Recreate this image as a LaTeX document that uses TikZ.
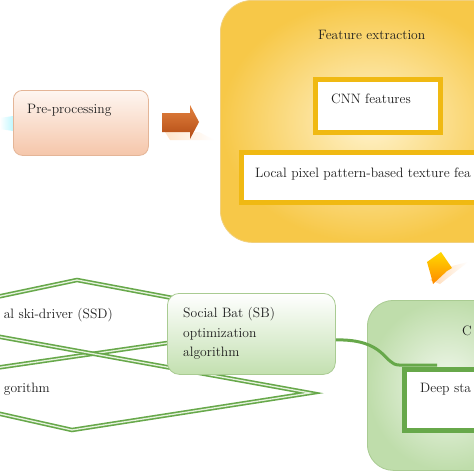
\documentclass[tikz,border=0pt]{standalone}
\usetikzlibrary{shapes.geometric}
\definecolor{txtc}{HTML}{1E1E1E}
\definecolor{peachtop}{HTML}{FEF6F1}
\definecolor{peachbot}{HTML}{F5C6AA}
\definecolor{peachline}{HTML}{E4B597}
\definecolor{orgtop}{HTML}{E3823F}
\definecolor{orgbot}{HTML}{B24B14}
\definecolor{featin}{HTML}{FFF3CD}
\definecolor{featout}{HTML}{F7C848}
\definecolor{featline}{HTML}{F1D07E}
\definecolor{gold}{HTML}{F0B912}
\definecolor{grin}{HTML}{F2F8EE}
\definecolor{grout}{HTML}{BFDDAB}
\definecolor{grline}{HTML}{A9CB92}
\definecolor{sbbot}{HTML}{C3E0B0}
\definecolor{dgreen}{HTML}{67A84A}
\definecolor{dgreenin}{HTML}{E6F2DE}
\tikzset{
  lbl/.style={font=\fontsize{13.6}{19.5}\selectfont, text=txtc, inner sep=0pt},
  plain/.style={rectangle, inner sep=0pt, anchor=north west},
  prebox/.style={plain, rounded corners=9pt, draw=peachline, line width=0.8pt, top color=peachtop, bottom color=peachbot},
  featbox/.style={plain, rounded corners=32pt, draw=featline, line width=0.8pt, shading=radial, inner color=featin, outer color=featout},
  goldbox/.style={plain, fill=white, draw=gold, line width=5pt},
  classbox/.style={plain, rounded corners=26pt, draw=grline, line width=0.8pt, shading=radial, inner color=grin, outer color=grout},
  sbboxst/.style={plain, rounded corners=12pt, draw=grline, line width=0.8pt, top color=white, bottom color=sbbot},
  greenbox/.style={plain, fill=white, draw=dgreen, line width=5pt},
  dline/.style={draw=dgreen, line width=1.6pt, double=dgreenin, double distance=1.3pt, line join=miter},
  conn/.style={draw=dgreen, line width=3pt},
}
\begin{document}
\begin{tikzpicture}[x=1pt,y=-1pt]
\useasboundingbox (0,0) rectangle (474,474);
\clip (0,0) rectangle (474,474);
\fill[white] (0,0) rectangle (474,474);

% faint left arrow tail
\shade[left color=white, right color=blue!12!cyan!25] (0,118) -- (13,116) -- (13,131) -- (0,129) -- cycle;

% pre-processing
\node[prebox, minimum width=135pt, minimum height=65pt] (pre) at (13,90) {};
\node[lbl, anchor=base west] (pretxt) at (27,113) {Pre-processing};

% orange arrow with shadow
\shade[left color=orange!20, right color=white] (165,132) -- (199,132) -- (214,140) -- (170,140) -- cycle;
\shade[top color=orgtop, bottom color=orgbot] (162,113) -- (190,113) -- (190,105) -- (199,122) -- (190,139) -- (190,132) -- (162,132) -- cycle;

% feature extraction
\node[featbox, minimum width=300pt, minimum height=242pt] (feat) at (220,0) {};
\node[lbl, anchor=base west] (feattxt) at (318,39) {Feature extraction};
\node[goldbox, minimum width=125pt, minimum height=53pt] (cnn) at (313,77) {};
\draw[gold, line width=0.8pt] ([shift={(4,4)}]cnn.north west) rectangle ([shift={(-4,-4)}]cnn.south east);
\node[lbl, anchor=base west] (cnntxt) at (331,103) {CNN features};
\node[goldbox, minimum width=300pt, minimum height=50pt] (lpp) at (239,150) {};
\draw[gold, line width=0.8pt] ([shift={(4,4)}]lpp.north west) rectangle ([shift={(-4,-4)}]lpp.south east);
\node[lbl, anchor=base west] (lpptxt) at (255,177) {Local pixel pattern-based texture fea};

% small yellow arrow
\shade[left color=orange!30, right color=white] (430,280) -- (452,266) -- (468,262) -- (440,284) -- cycle;
\shade[top color=yellow!70!orange, bottom color=orange!85!red!80!yellow] (427,262) -- (441,252) -- (452,268) -- (447,271) -- (433,284) -- (431,276) -- cycle;

% diamonds
\draw[dline] (-160,330) -- (77,280) -- (305,323) -- (-60,376) -- cycle;
\draw[dline] (-60,326) -- (310,393) -- (72,430) -- (-160,378) -- cycle;
\node[lbl, anchor=base east] (ssdtxt) at (113,318) {al ski-driver (SSD)};
\node[lbl, anchor=base east] (algtxt) at (50,392) {gorithm};

% social bat box
\node[sbboxst, minimum width=168pt, minimum height=81pt] (sb) at (167,293) {};
\node[lbl, anchor=base west] (sbtxt1) at (183,317) {Social Bat (SB)};
\node[lbl, anchor=base west] (sbtxt2) at (183,337) {optimization};
\node[lbl, anchor=base west] (sbtxt3) at (183,356) {algorithm};

% classification box
\node[classbox, minimum width=160pt, minimum height=170pt] (cls) at (367,300) {};
\node[lbl, anchor=base west] (clstxt) at (462,335) {C};
\node[greenbox, minimum width=120pt, minimum height=61pt] (deep) at (402,367) {};
\draw[dgreen, line width=0.8pt] ([shift={(4,4)}]deep.north west) rectangle ([shift={(-4,-4)}]deep.south east);
\node[lbl, anchor=base west] (deeptxt) at (420,392) {Deep sta};

% connector
\draw[conn] ([yshift=-6pt]sb.east) .. controls (386,339) and (384,365) .. ([xshift=-3pt,yshift=2pt]deep.north west) -- ([xshift=35pt,yshift=2pt]deep.north west);
\end{tikzpicture}
\end{document}
